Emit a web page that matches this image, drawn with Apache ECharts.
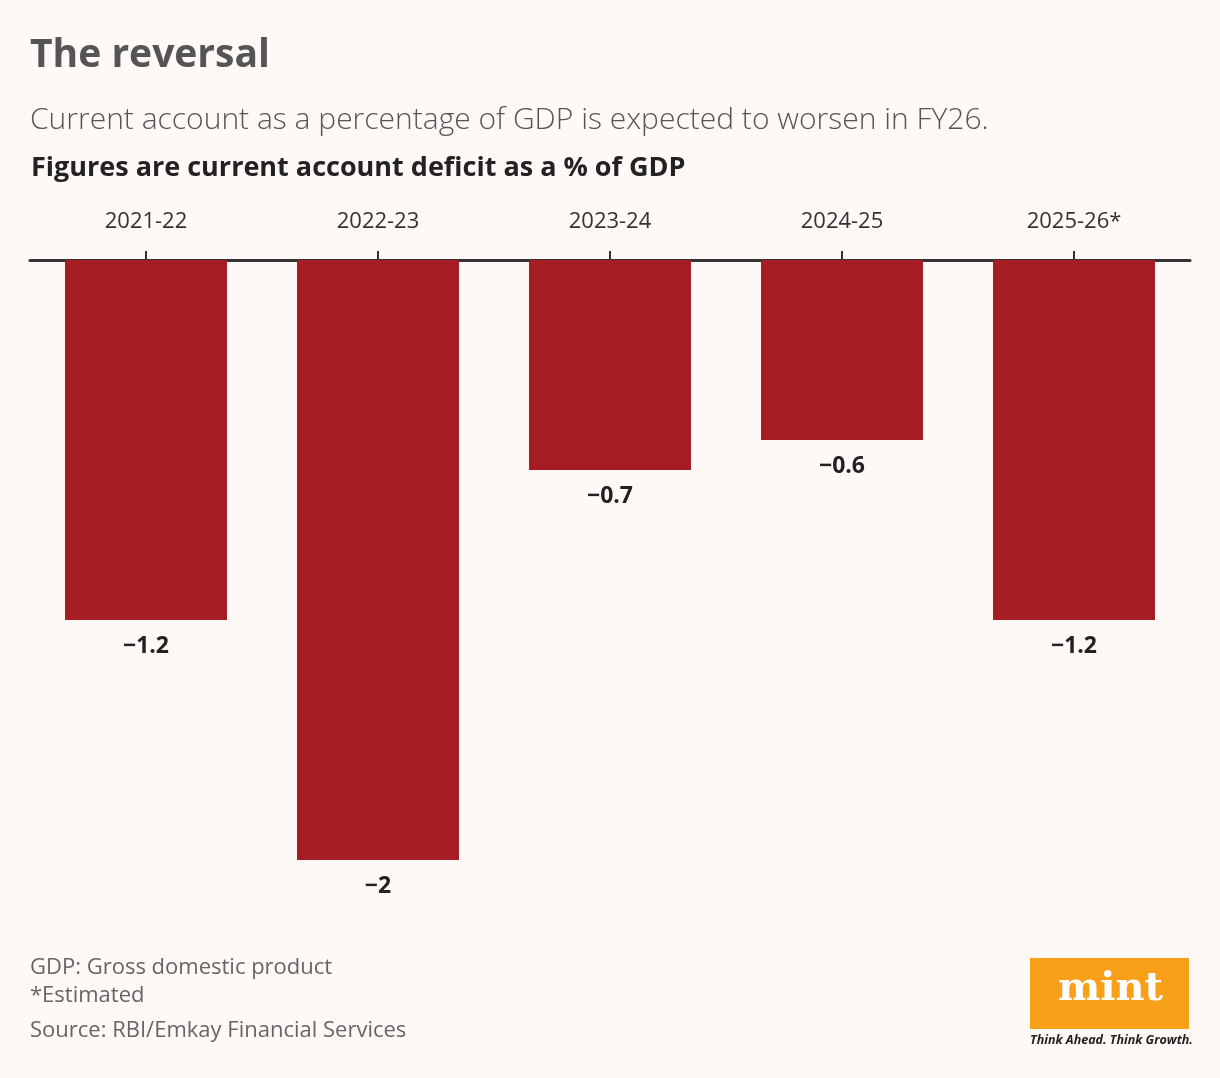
<!DOCTYPE html>
<html>
<head>
<meta charset="utf-8">
<script src="https://cdn.jsdelivr.net/npm/echarts@6/dist/echarts.min.js"></script>
<style>
  html, body { margin: 0; padding: 0; background: #fef8f7; }
  #chart { width: 1220px; height: 1078px; }
</style>
</head>
<body>
<div id="chart"></div>
<script>
// current account deficit, % of GDP
const YEARS = ['2021-22', '2022-23', '2023-24', '2024-25', '2025-26*'];
const CAD = [-1.2, -2, -0.7, -0.6, -1.2];

const FONT = '"Open Sans", "Noto Sans", sans-serif';
const BAR = '#a51d23';

const chart = echarts.init(document.getElementById('chart'));

chart.setOption({
  backgroundColor: '#fef8f7',
  animation: false,
  title: [
    { text: 'The reversal', left: 25, top: 31,
      textStyle: { fontFamily: FONT, fontSize: 39, fontWeight: 'bold', color: '#555555', letterSpacing: -0.8 } },
    { text: 'Current account as a percentage of GDP is expected to worsen in FY26.', left: 25, top: 100,
      textStyle: { fontFamily: FONT, fontSize: 30, fontWeight: 300, color: '#555555' } },
    { text: 'Figures are current account deficit as a % of GDP', left: 26, top: 150,
      textStyle: { fontFamily: FONT, fontSize: 27, fontWeight: 'bold', color: '#222222' } },
  ],
  grid: { left: 30, right: 30, top: 260, bottom: 218 },
  xAxis: {
    type: 'category',
    position: 'top',
    data: YEARS,
    axisLine: { show: true, onZero: false, lineStyle: { color: '#333333', width: 3 } },
    axisTick: { show: true, alignWithLabel: true, length: 9, lineStyle: { color: '#333333', width: 2 } },
    axisLabel: { fontFamily: FONT, fontSize: 22, color: '#333333', margin: 27 },
  },
  yAxis: {
    type: 'value', min: -2, max: 0, show: false,
    splitLine: { show: false },
  },
  series: [{
    type: 'bar',
    data: CAD,
    barWidth: 162,
    itemStyle: { color: BAR },
    label: {
      show: true, position: 'bottom', distance: 15,
      fontFamily: FONT, fontSize: 23, fontWeight: 'bold', color: '#222222',
      formatter: p => String(p.value).replace('-', '\u2212'),
    },
  }],
  graphic: [
    { type: 'text', left: 30, top: 954,
      style: { text: 'GDP: Gross domestic product\n*Estimated', fontFamily: FONT, fontSize: 22,
               lineHeight: 28, fill: '#666666' } },
    { type: 'text', left: 30, top: 1020,
      style: { text: 'Source: RBI/Emkay Financial Services', fontFamily: FONT, fontSize: 22, fill: '#666666' } },
    { type: 'rect', left: 1030, top: 958, shape: { width: 159, height: 71 },
      style: { fill: '#f9a01b' } },
    { type: 'text', left: 1058, top: 970,
      style: { text: 'mint', fontFamily: '"DejaVu Serif", serif', fontSize: 40, fontWeight: 'bold', fill: '#ffffff' } },
    { type: 'text', left: 1030, top: 1034,
      style: { text: 'Think Ahead. Think Growth.', fontFamily: FONT, fontSize: 12.5, fontStyle: 'italic',
               fontWeight: 'bold', fill: '#222222' } },
  ],
});
</script>
</body>
</html>
